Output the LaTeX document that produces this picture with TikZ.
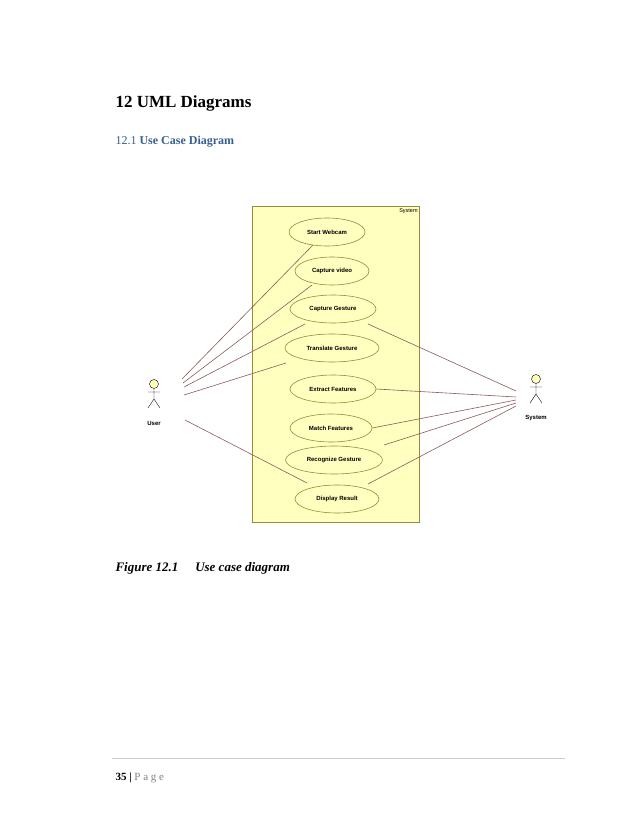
\documentclass[tikz,border=0pt]{standalone}
\usepackage{fontspec}
\usetikzlibrary{shapes.geometric}
\setmainfont{Liberation Serif}
\newfontfamily\uf{Liberation Sans}
\definecolor{boxfill}{RGB}{255,255,191}
\definecolor{boxline}{RGB}{150,140,60}
\definecolor{assoc}{RGB}{140,90,90}
\definecolor{headblue}{RGB}{54,95,145}
\begin{document}
\begin{tikzpicture}[x=1pt,y=-1pt,
  ucase/.style={ellipse,draw=boxline,fill=boxfill,line width=0.6pt,inner sep=0pt,font=\uf\bfseries\fontsize{6}{7}\selectfont},
  as/.style={draw=assoc,line width=0.6pt},
  act/.style={draw=black,line width=0.4pt}]
\useasboundingbox (0,0) rectangle (638,826);
\node[anchor=west,font=\bfseries\fontsize{17}{20}\selectfont] (h1) at (112,103) {12 UML Diagrams};
\node[anchor=west,font=\bfseries\fontsize{12}{14}\selectfont,text=headblue] (h2) at (112,142) {\textmd{12.1} Use Case Diagram};
\node[draw=boxline,fill=boxfill,line width=0.8pt,minimum width=167,minimum height=316,anchor=north west] (sys) at (252,206) {};
\node[anchor=north east,font=\uf\fontsize{5.5}{6}\selectfont,inner sep=2pt] (syslab) at (sys.north east) {System};
\node[ucase,minimum width=76,minimum height=28] (u1) at (327,232) {Start Webcam};
\node[ucase,minimum width=74,minimum height=28] (u2) at (332,271) {Capture video};
\node[ucase,minimum width=86,minimum height=28] (u3) at (333,309) {Capture Gesture};
\node[ucase,minimum width=94,minimum height=28] (u4) at (332,348) {Translate Gesture};
\node[ucase,minimum width=86,minimum height=28] (u5) at (333,389) {Extract Features};
\node[ucase,minimum width=82,minimum height=28] (u6) at (331,428) {Match Features};
\node[ucase,minimum width=97,minimum height=28] (u7) at (334,460) {Recognize Gesture};
\node[ucase,minimum width=84,minimum height=28] (u8) at (337,499) {Display Result};
% User actor
\draw[act,fill=boxfill] (154,384) circle (4.5);
\draw[act] (154,388.5) -- (154,399) (148,392) -- (160,392) (154,399) -- (148,408) (154,399) -- (160,408);
\node[font=\uf\bfseries\fontsize{6}{7}\selectfont] (user) at (154,423) {User};
% System actor
\draw[act,fill=boxfill] (536,379) circle (4.5);
\draw[act] (536,383.5) -- (536,394) (530,387) -- (542,387) (536,394) -- (530,403) (536,394) -- (542,403);
\node[font=\uf\bfseries\fontsize{6}{7}\selectfont] (sysact) at (536,418) {System};
\coordinate (pa) at (182,379); \coordinate (pb) at (183,383); \coordinate (pc) at (184,387);
\coordinate (pd) at (184,395); \coordinate (pe) at (185,420);
\coordinate (sa) at (516,391); \coordinate (sb) at (516,397); \coordinate (sc) at (516,400);
\coordinate (sd) at (516,403); \coordinate (se) at (516,406);
\draw[as] (pa) -- (313,245) (pb) -- (312,285) (pc) -- (305,324) (pd) -- (286,363) (pe) -- (307,483);
\draw[as] (368,324) -- (sa) (u5.east) -- (sb) (u6.east) -- (sc) (384,445) -- (sd) (368,484) -- (se);
\node[anchor=west,font=\bfseries\itshape\fontsize{13}{15}\selectfont] (cap) at (112,568) {Figure 12.1\hspace{1.3em}Use case diagram};
\draw[gray!40,line width=0.4pt] (112,758) -- (565,758);
\node[anchor=west,font=\fontsize{11}{13}\selectfont] (foot) at (112,778) {\textbf{35 |} \textcolor{gray}{P a g e}};
\end{tikzpicture}
\end{document}
